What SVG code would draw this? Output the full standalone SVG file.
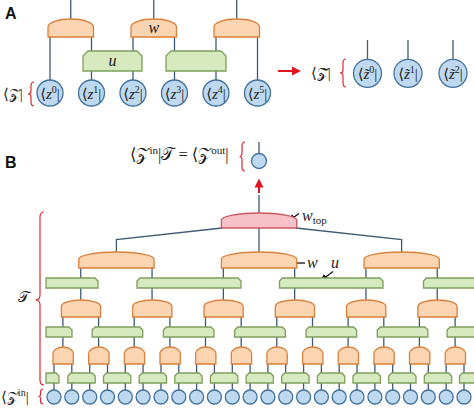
<svg xmlns="http://www.w3.org/2000/svg" width="474" height="408" viewBox="0 0 474 408">
<defs>
<marker id="ah" markerWidth="8" markerHeight="8" refX="7" refY="4" orient="auto" markerUnits="userSpaceOnUse"><path d="M0,0.5 L8,4 L0,7.5 Z" fill="#111"/></marker>
</defs>
<style>
.ln{fill:none;stroke:#3f5b75;stroke-width:1.3}
.og{fill:#fbd4b2;stroke:#d9803a;stroke-width:1.3}
.gr{fill:#d7e9bf;stroke:#7d9e5c;stroke-width:1.3}
.ci{fill:#bed8ef;stroke:#41709c;stroke-width:1.3}
.pk{fill:#f8c1c7;stroke:#c9585e;stroke-width:1.3}
.br{fill:none;stroke:#e0282e;stroke-width:1.2}
.ra{stroke:#e0141e;stroke-width:2;fill:none}
.rh{fill:#e0141e}
.la{stroke:#111;stroke-width:1.3;fill:none}
.t{font-family:"Liberation Serif","DejaVu Serif",serif;fill:#1a1a1a}
.i{font-style:italic}
.ct{font-size:15px;text-anchor:middle}
.lb{font-family:"Liberation Sans",Arial,sans-serif;font-weight:bold;font-size:16px;fill:#111}
</style>
<rect width="474" height="408" fill="#fff"/>
<text class="lb" x="5" y="19">A</text>
<text class="lb" x="5" y="168">B</text>

<g id="connectors">
<path class="ln" d="M70.75 0V19M153.75 0V19M236.75 0V19M50 37V80M91.5 37V80M133 37V80M174.5 37V80M216 37V80M257.5 37V80M367.5 40V59.3M408 40V59M453 40V59"/>
<path class="ln" d="M54 364V390M71.8 364V390M89.7 364V390M107.5 364V390M125.3 364V390M143.1 364V390M161 364V390M178.8 364V390M196.6 364V390M214.4 364V390M232.3 364V390M250.1 364V390M267.9 364V390M285.7 364V390M303.6 364V390M321.4 364V390M339.2 364V390M357 364V390M374.9 364V390M392.7 364V390M410.5 364V390M428.3 364V390M446.2 364V390M464 364V390"/>
<path class="ln" d="M62.9 317V347M98.6 317V347M134.2 317V347M169.9 317V347M205.5 317V347M241.2 317V347M276.8 317V347M312.5 317V347M348.1 317V347M383.8 317V347M419.4 317V347M455.1 317V347"/>
<path class="ln" d="M80.75 268V300M152.05 268V300M223.35 268V300M294.65 268V300M365.95 268V300M437.25 268V300"/>
<path class="ln" d="M116.4 252V239.5L222 228M259 252V228M401.6 252V239.5L296 228M259 213V195M259 142V153.5"/>
<path class="ra" d="M278 71H294"/>
<path class="rh" d="M301 71L292 66.5V75.5Z"/>
<path class="ra" d="M259 193V186"/>
<path class="rh" d="M259 178.5L254.5 187.5H263.5Z"/>
<path class="la" d="M299 213.5L288.5 221" marker-end="url(#ah)"/>
<path class="la" d="M305 263H287.5" marker-end="url(#ah)"/>
<path class="la" d="M333 271.5L320.5 281" marker-end="url(#ah)"/>
</g>

<g id="panelA">
<g id="A_w"><path class="og" d="M48 37V27A22.75 8 0 0 1 93.5 27V37Z"/><path class="og" d="M131 37V27A22.75 8 0 0 1 176.5 27V37Z"/><path class="og" d="M214 37V27A22.75 8 0 0 1 259.5 27V37Z"/>
<text class="t i" x="153.75" y="33" font-size="16" text-anchor="middle">w</text></g>
<g id="A_u"><path class="gr" d="M83 71V56L88 51H137L142 56V71Z"/><path class="gr" d="M166 71V56L171 51H221L226 56V71Z"/>
<text class="t i" x="112.5" y="66" font-size="16" text-anchor="middle">u</text></g>
<g id="A_z">
<circle class="ci" cx="50" cy="93" r="13"/><circle class="ci" cx="91.5" cy="93" r="13"/><circle class="ci" cx="133" cy="93" r="13"/><circle class="ci" cx="174.5" cy="93" r="13"/><circle class="ci" cx="216" cy="93" r="13"/><circle class="ci" cx="257.5" cy="93" r="13"/>
<text class="t ct" x="50" y="98.5">⟨<tspan class="i">z</tspan><tspan dy="-6" font-size="10">0</tspan><tspan dy="6">|</tspan></text>
<text class="t ct" x="91.5" y="98.5">⟨<tspan class="i">z</tspan><tspan dy="-6" font-size="10">1</tspan><tspan dy="6">|</tspan></text>
<text class="t ct" x="133" y="98.5">⟨<tspan class="i">z</tspan><tspan dy="-6" font-size="10">2</tspan><tspan dy="6">|</tspan></text>
<text class="t ct" x="174.5" y="98.5">⟨<tspan class="i">z</tspan><tspan dy="-6" font-size="10">3</tspan><tspan dy="6">|</tspan></text>
<text class="t ct" x="216" y="98.5">⟨<tspan class="i">z</tspan><tspan dy="-6" font-size="10">4</tspan><tspan dy="6">|</tspan></text>
<text class="t ct" x="257.5" y="98.5">⟨<tspan class="i">z</tspan><tspan dy="-6" font-size="10">5</tspan><tspan dy="6">|</tspan></text>
<text class="t" x="3" y="99" font-size="15">⟨𝒵|</text>
<path class="br" d="M34 82Q31 82 31 86V91Q31 94 28 94Q31 94 31 97V102Q31 106 34 106"/>
</g>
<g id="A_zt">
<circle class="ci" cx="367.5" cy="73.3" r="14"/><circle class="ci" cx="408" cy="73.3" r="14"/><circle class="ci" cx="453" cy="73.3" r="14"/>
<text class="t ct" x="367.5" y="78.8">⟨<tspan class="i">z̃</tspan><tspan dy="-6" font-size="10">0</tspan><tspan dy="6">|</tspan></text>
<text class="t ct" x="408" y="78.8">⟨<tspan class="i">z̃</tspan><tspan dy="-6" font-size="10">1</tspan><tspan dy="6">|</tspan></text>
<text class="t ct" x="453" y="78.8">⟨<tspan class="i">z̃</tspan><tspan dy="-6" font-size="10">2</tspan><tspan dy="6">|</tspan></text>
<text class="t" x="311" y="78" font-size="15">⟨𝒵̃|</text>
<path class="br" d="M346 59Q343 59 343 63V70Q343 73 340 73Q343 73 343 76V83Q343 87 346 87"/>
</g>
</g>

<g id="panelB">
<g id="B_in">
<circle class="ci" cx="54" cy="397" r="7"/><circle class="ci" cx="71.8" cy="397" r="7"/><circle class="ci" cx="89.7" cy="397" r="7"/><circle class="ci" cx="107.5" cy="397" r="7"/><circle class="ci" cx="125.3" cy="397" r="7"/><circle class="ci" cx="143.1" cy="397" r="7"/><circle class="ci" cx="161" cy="397" r="7"/><circle class="ci" cx="178.8" cy="397" r="7"/><circle class="ci" cx="196.6" cy="397" r="7"/><circle class="ci" cx="214.4" cy="397" r="7"/><circle class="ci" cx="232.3" cy="397" r="7"/><circle class="ci" cx="250.1" cy="397" r="7"/><circle class="ci" cx="267.9" cy="397" r="7"/><circle class="ci" cx="285.7" cy="397" r="7"/><circle class="ci" cx="303.6" cy="397" r="7"/><circle class="ci" cx="321.4" cy="397" r="7"/><circle class="ci" cx="339.2" cy="397" r="7"/><circle class="ci" cx="357" cy="397" r="7"/><circle class="ci" cx="374.9" cy="397" r="7"/><circle class="ci" cx="392.7" cy="397" r="7"/><circle class="ci" cx="410.5" cy="397" r="7"/><circle class="ci" cx="428.3" cy="397" r="7"/><circle class="ci" cx="446.2" cy="397" r="7"/><circle class="ci" cx="464" cy="397" r="7"/>
<text class="t" x="1" y="402" font-size="15">⟨𝒵<tspan dy="-6" font-size="10">in</tspan><tspan dy="6">|</tspan></text>
<path class="br" d="M43 389Q40.5 389 40.5 392V395Q40.5 396.5 38.5 396.5Q40.5 396.5 40.5 398V401Q40.5 404 43 404"/>
</g>
<g id="B_u1">
<path class="gr" d="M46 383V373H56L59 376V383Z"/>
<path class="gr" d="M67.8 383V376L70.8 373H92.2L95.2 376V383Z"/>
<path class="gr" d="M103.5 383V376L106.5 373H127.8L130.8 376V383Z"/>
<path class="gr" d="M139.1 383V376L142.1 373H163.5L166.5 376V383Z"/>
<path class="gr" d="M174.8 383V376L177.8 373H199.1L202.1 376V383Z"/>
<path class="gr" d="M210.4 383V376L213.4 373H234.8L237.8 376V383Z"/>
<path class="gr" d="M246.1 383V376L249.1 373H270.4L273.4 376V383Z"/>
<path class="gr" d="M281.7 383V376L284.7 373H306.1L309.1 376V383Z"/>
<path class="gr" d="M317.4 383V376L320.4 373H341.7L344.7 376V383Z"/>
<path class="gr" d="M353 383V376L356 373H377.4L380.4 376V383Z"/>
<path class="gr" d="M388.7 383V376L391.7 373H413L416 376V383Z"/>
<path class="gr" d="M424.3 383V376L427.3 373H448.7L451.7 376V383Z"/>
<path class="gr" d="M459.5 383V376L462.5 373H476V383Z"/>
</g>
<g id="B_w1">
<path class="og" d="M53 364V354A10.15 7 0 0 1 73.3 354V364Z"/>
<path class="og" d="M88.7 364V354A10.15 7 0 0 1 109 354V364Z"/>
<path class="og" d="M124.3 364V354A10.15 7 0 0 1 144.6 354V364Z"/>
<path class="og" d="M160 364V354A10.15 7 0 0 1 180.3 354V364Z"/>
<path class="og" d="M195.6 364V354A10.15 7 0 0 1 215.9 354V364Z"/>
<path class="og" d="M231.3 364V354A10.15 7 0 0 1 251.6 354V364Z"/>
<path class="og" d="M266.9 364V354A10.15 7 0 0 1 287.2 354V364Z"/>
<path class="og" d="M302.6 364V354A10.15 7 0 0 1 322.9 354V364Z"/>
<path class="og" d="M338.2 364V354A10.15 7 0 0 1 358.5 354V364Z"/>
<path class="og" d="M373.9 364V354A10.15 7 0 0 1 394.2 354V364Z"/>
<path class="og" d="M409.5 364V354A10.15 7 0 0 1 429.8 354V364Z"/>
<path class="og" d="M445.2 364V354A10.15 7 0 0 1 465.5 354V364Z"/>
</g>
<g id="B_u2">
<path class="gr" d="M46 337V327H69L72 330V337Z"/>
<path class="gr" d="M92.1 337V330L95.1 327H139.7L142.7 330V337Z"/>
<path class="gr" d="M163.4 337V330L166.4 327H211L214 330V337Z"/>
<path class="gr" d="M234.7 337V330L237.7 327H282.3L285.3 330V337Z"/>
<path class="gr" d="M306 337V330L309 327H353.6L356.6 330V337Z"/>
<path class="gr" d="M377.3 337V330L380.3 327H424.9L427.9 330V337Z"/>
<path class="gr" d="M447.1 337V330L450.1 327H476V337Z"/>
</g>
<g id="B_w2">
<path class="og" d="M61.4 317V306.5A19.6 6.5 0 0 1 100.6 306.5V317Z"/>
<path class="og" d="M132.7 317V306.5A19.6 6.5 0 0 1 171.9 306.5V317Z"/>
<path class="og" d="M204 317V306.5A19.6 6.5 0 0 1 243.2 306.5V317Z"/>
<path class="og" d="M275.3 317V306.5A19.6 6.5 0 0 1 314.5 306.5V317Z"/>
<path class="og" d="M346.6 317V306.5A19.6 6.5 0 0 1 385.8 306.5V317Z"/>
<path class="og" d="M417.9 317V306.5A19.6 6.5 0 0 1 457.1 306.5V317Z"/>
</g>
<g id="B_u3">
<path class="gr" d="M46 288V278H95L98 281V288Z"/>
<path class="gr" d="M137 288V281L140 278H238L241 281V288Z"/>
<path class="gr" d="M279.5 288V281L282.5 278H380L383 281V288Z"/>
<path class="gr" d="M423.5 288V281L426.5 278H476V288Z"/>
</g>
<g id="B_w3">
<path class="og" d="M78.8 268V259A37.65 7 0 0 1 154.1 259V268Z"/>
<path class="og" d="M221.4 268V259A37.65 7 0 0 1 296.7 259V268Z"/>
<path class="og" d="M364 268V259A37.65 7 0 0 1 439.3 259V268Z"/>
</g>
<g id="B_wtop">
<path class="pk" d="M221.4 228V220A37.65 7 0 0 1 296.7 220V228Z"/>
</g>
<g id="B_out">
<circle class="ci" cx="259" cy="161" r="7.5"/>
<path class="br" d="M245 142Q242 142 242 146V153Q242 156.5 239.5 156.5Q242 156.5 242 160V167Q242 171 245 171"/>
<text class="t" x="130" y="160" font-size="16.5">⟨𝒵<tspan dy="-6" font-size="11">in</tspan><tspan dy="6">|𝒯 = ⟨𝒵</tspan><tspan dy="-6" font-size="11">out</tspan><tspan dy="6">|</tspan></text>
</g>
<g id="B_T">
<path class="br" d="M44 212Q40 212 40 217V295Q40 300 35.5 300Q40 300 40 305V380Q40 385 44 385"/>
<text class="t" x="18" y="302" font-size="15">𝒯</text>
</g>
<g id="B_labels">
<text class="t" x="302" y="221" font-size="16"><tspan class="i">w</tspan><tspan dy="3" font-size="11">top</tspan></text>
<text class="t i" x="307" y="267.5" font-size="16">w</text>
<text class="t i" x="331" y="268" font-size="16">u</text>
</g>
</g>
</svg>
